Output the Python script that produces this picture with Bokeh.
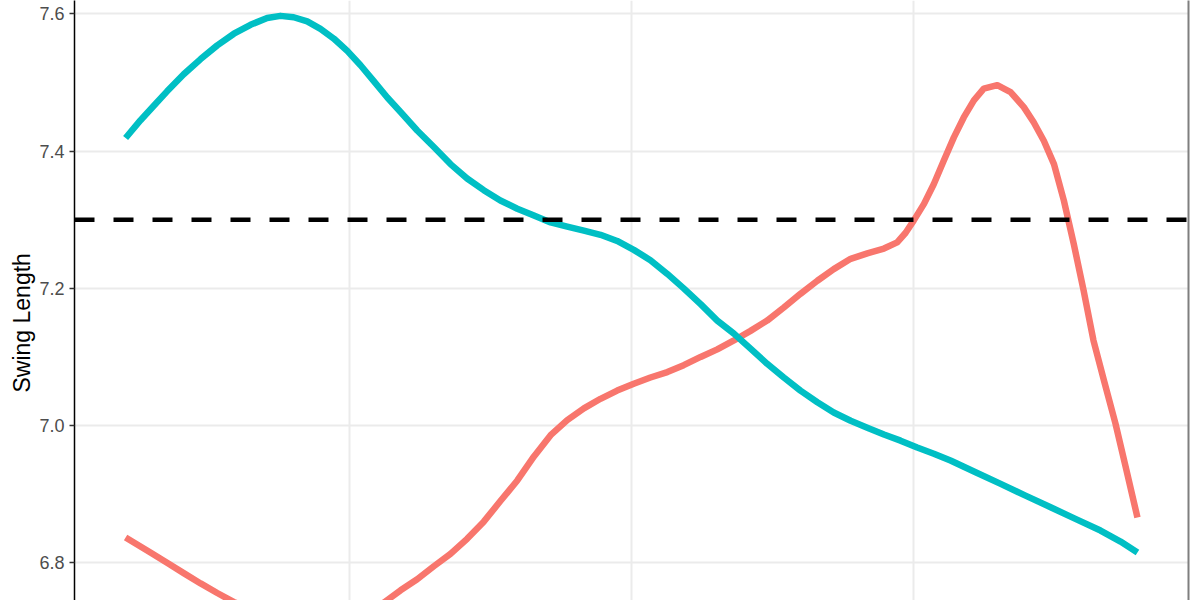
from bokeh.plotting import figure
from bokeh.models import (ColumnDataSource, Span, LinearAxis, FixedTicker, Grid,
                          PrintfTickFormatter, Range1d, Title)
from bokeh.embed import file_html
from bokeh.resources import INLINE

# ---- data ----
cyan_x = [1.206, 1.259, 1.306, 1.353, 1.412, 1.472, 1.531, 1.590, 1.649, 1.708,
          1.755, 1.802, 1.850, 1.897, 1.944, 1.992, 2.039, 2.086, 2.134, 2.181,
          2.240, 2.299, 2.358, 2.417, 2.476, 2.535, 2.595, 2.654, 2.713, 2.772,
          2.831, 2.890, 2.949, 3.008, 3.067, 3.127, 3.185, 3.245, 3.304, 3.363,
          3.422, 3.481, 3.540, 3.599, 3.659, 3.717, 3.777, 3.836, 3.895, 3.954,
          4.013, 4.072, 4.131, 4.220, 4.309, 4.397, 4.486, 4.574, 4.663, 4.734,
          4.794]
cyan_y = [7.419, 7.445, 7.466, 7.487, 7.512, 7.534, 7.554, 7.571, 7.584, 7.594,
          7.597, 7.595, 7.589, 7.578, 7.564, 7.546, 7.525, 7.502, 7.478, 7.457,
          7.430, 7.406, 7.381, 7.360, 7.343, 7.328, 7.316, 7.306, 7.296, 7.290,
          7.284, 7.278, 7.269, 7.256, 7.241, 7.221, 7.200, 7.177, 7.153, 7.134,
          7.112, 7.090, 7.070, 7.051, 7.034, 7.019, 7.007, 6.997, 6.987, 6.978,
          6.968, 6.959, 6.949, 6.932, 6.915, 6.898, 6.881, 6.864, 6.847, 6.831,
          6.815]

red_x = [1.206, 1.294, 1.353, 1.412, 1.472, 1.531, 1.589, 1.649, 1.720, 1.791,
         1.862, 1.933, 2.004, 2.074, 2.122, 2.181, 2.240, 2.299, 2.358, 2.417,
         2.476, 2.535, 2.595, 2.654, 2.713, 2.772, 2.831, 2.890, 2.949, 3.008,
         3.067, 3.127, 3.185, 3.245, 3.304, 3.363, 3.422, 3.481, 3.540, 3.599,
         3.659, 3.717, 3.777, 3.836, 3.895, 3.942, 3.972, 4.001, 4.037, 4.072,
         4.107, 4.143, 4.178, 4.214, 4.249, 4.297, 4.344, 4.391, 4.426, 4.462,
         4.498, 4.533, 4.568, 4.603, 4.638, 4.677, 4.716, 4.755, 4.794]
red_y = [6.837, 6.815, 6.800, 6.785, 6.770, 6.756, 6.743, 6.733, 6.725, 6.719,
         6.716, 6.718, 6.724, 6.730, 6.742, 6.760, 6.776, 6.795, 6.813, 6.835,
         6.860, 6.890, 6.920, 6.955, 6.986, 7.008, 7.025, 7.039, 7.051, 7.061,
         7.070, 7.078, 7.088, 7.100, 7.111, 7.124, 7.138, 7.153, 7.172, 7.192,
         7.211, 7.228, 7.243, 7.251, 7.258, 7.267, 7.281, 7.299, 7.323, 7.352,
         7.386, 7.420, 7.449, 7.474, 7.491, 7.496, 7.486, 7.464, 7.442, 7.415,
         7.381, 7.328, 7.265, 7.197, 7.124, 7.063, 7.003, 6.935, 6.866]

y_ticks = [6.8, 7.0, 7.2, 7.4, 7.6]
x_ticks = [2, 3, 4]
threshold = 7.3
y_label = "Swing Length"

RED = "#F8766D"
CYAN = "#00BFC4"
GRID = "#EBEBEB"

p = figure(width=1200, height=600, output_backend="svg", toolbar_location=None,
           x_axis_location=None, y_axis_location="left",
           x_range=Range1d(1.0248, 4.975), y_range=Range1d(6.7451, 7.6194),
           min_border_left=74, min_border_right=12, min_border_top=0, min_border_bottom=0)
p.outline_line_color = None
p.background_fill_color = "white"
p.border_fill_color = "white"

# grids
p.ygrid.ticker = FixedTicker(ticks=y_ticks)
p.ygrid.grid_line_color = GRID
p.ygrid.grid_line_width = 2
p.xgrid.visible = False
xg = Grid(dimension=0, ticker=FixedTicker(ticks=x_ticks), grid_line_color=GRID,
          grid_line_width=2)
p.add_layout(xg)

# left axis
ya = p.yaxis[0]
ya.ticker = FixedTicker(ticks=y_ticks)
ya.formatter = PrintfTickFormatter(format="%.1f")
ya.axis_line_color = "black"
ya.axis_line_width = 1.5
ya.major_tick_line_color = "#333333"
ya.major_tick_line_width = 1.5
ya.major_tick_out = 5
ya.major_tick_in = 0
ya.minor_tick_line_color = None
ya.major_label_text_font = "Liberation Sans"
ya.major_label_text_font_size = "18px"
ya.major_label_text_color = "#4D4D4D"
ya.major_label_standoff = 5

# y-axis title (panel is cropped at the bottom, so the title sits below centre)
ytitle = Title(text=y_label, align="left", offset=208, vertical_align="middle",
               text_font="Liberation Sans", text_font_size="23px",
               text_font_style="normal", text_color="black", standoff=2)
p.add_layout(ytitle, "left")

# right border (as an empty axis)
ra = LinearAxis(ticker=FixedTicker(ticks=[]), axis_line_color="#7F7F7F",
                axis_line_width=2, major_tick_out=0, major_tick_in=0,
                minor_tick_out=0, minor_tick_in=0, major_label_standoff=0,
                major_label_text_font_size="0px")
p.add_layout(ra, "right")

# threshold line
p.add_layout(Span(location=threshold, dimension="width", line_color="black",
                  line_width=4.5, line_dash="20 19"))

src_red = ColumnDataSource(dict(x=red_x, y=red_y))
src_cyan = ColumnDataSource(dict(x=cyan_x, y=cyan_y))
p.line("x", "y", source=src_red, line_color=RED, line_width=6.5, line_join="round")
p.line("x", "y", source=src_cyan, line_color=CYAN, line_width=6.5, line_join="round")

open("out.html", "w").write(file_html(p, INLINE))
